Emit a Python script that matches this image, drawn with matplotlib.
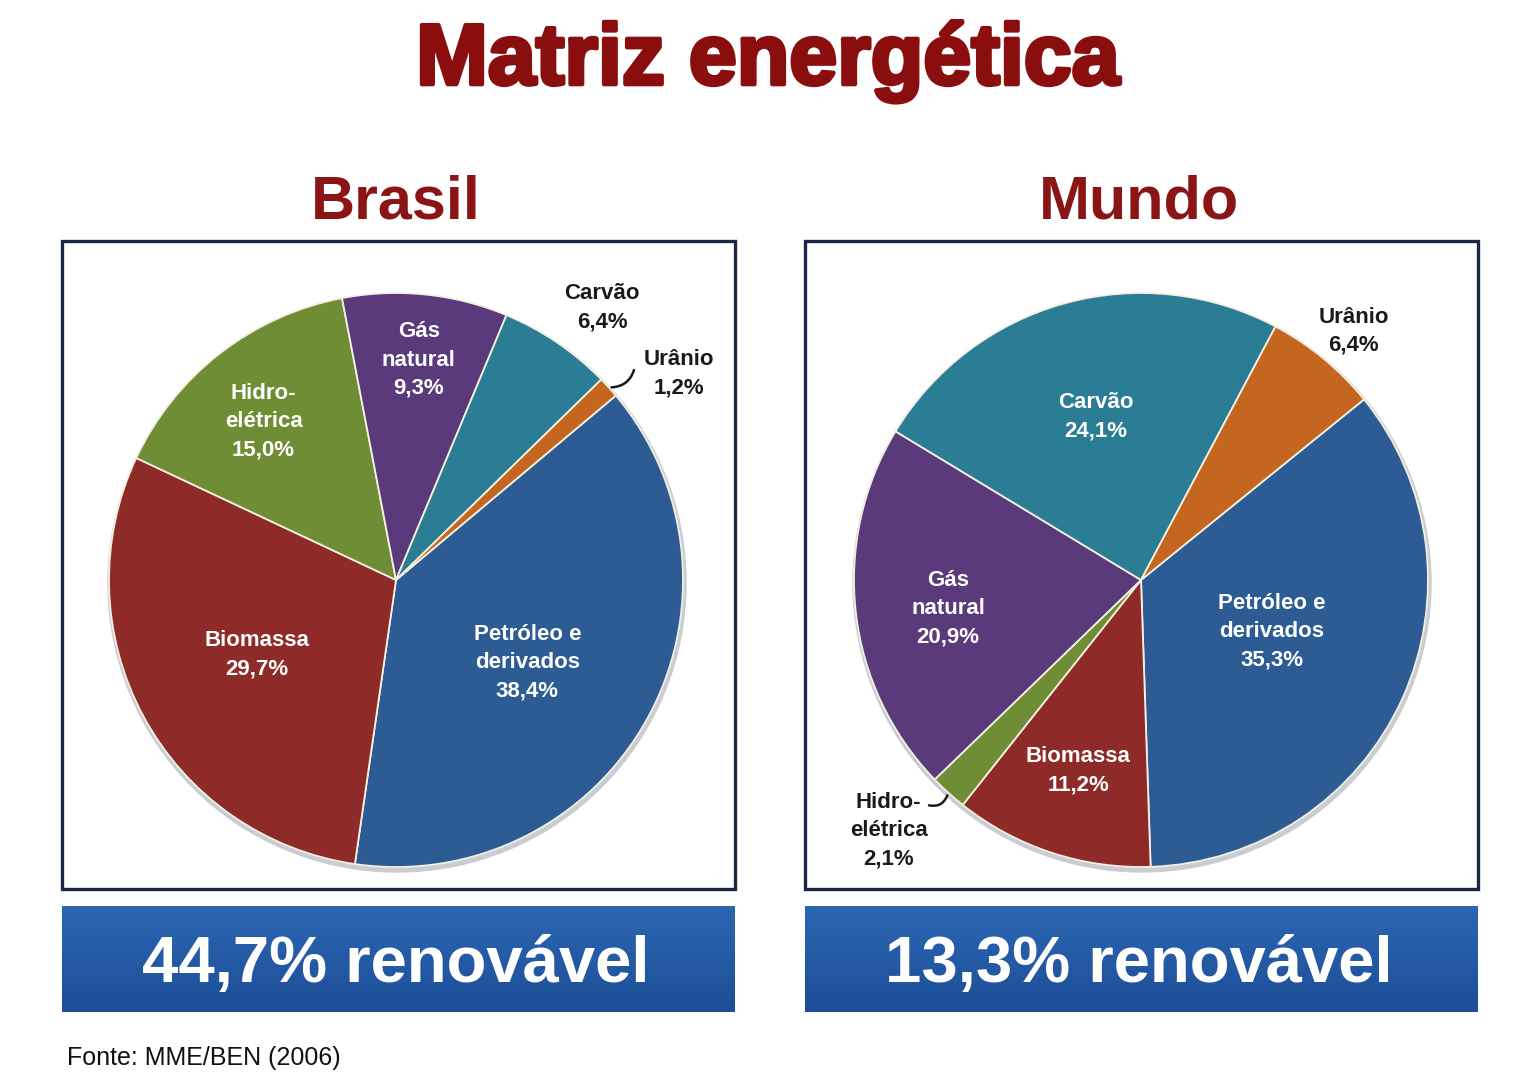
import numpy as np
import matplotlib
matplotlib.use("Agg")
import matplotlib.pyplot as plt
import matplotlib.patheffects as pe
from matplotlib.patches import Rectangle

# dados (MME/BEN 2006)
fontes = ["Petróleo e\nderivados", "Biomassa", "Hidro-\nelétrica", "Gás\nnatural", "Carvão", "Urânio"]
brasil = [38.4, 29.7, 15.0, 9.3, 6.4, 1.2]
mundo = [35.3, 11.2, 2.1, 20.9, 24.1, 6.4]
renovavel = ["44,7% renovável", "13,3% renovável"]
titulos = ["Brasil", "Mundo"]
cores = ["#2C5C93", "#8E2A27", "#6F8D35", "#5B3A7C", "#2B7D95", "#C4661F"]

W, H = 1536, 1078
plt.rcParams['font.family'] = ['Liberation Sans', 'DejaVu Sans']
fig = plt.figure(figsize=(W / 100, H / 100), dpi=100)
ax = fig.add_axes([0, 0, 1, 1])
ax.set_xlim(0, W)
ax.set_ylim(0, H)
ax.set_aspect('equal')
ax.axis('off')

def py(y):
    # pixel y (de cima) -> dado y
    return H - y

ax.text(768, py(62), "Matriz energética", ha='center', va='center', fontsize=62,
        fontweight='bold', color='#8B0E0E',
        path_effects=[pe.withStroke(linewidth=3, foreground='#8B0E0E')])

# (distância radial, desvio de ângulo, cor do texto) para cada rótulo
rot_br = [(0.54, -3, 'w'), (0.55, 0, 'w'), (0.72, 2, 'w'), (0.77, 0, 'w'), (1.19, -3, 'k'), (1.22, -6, 'k')]
rot_mu = [(0.49, 3, 'w'), (0.70, 0, 'w'), (1.24, -3, 'k'), (0.68, 2, 'w'), (0.59, 0, 'w'), (1.14, -1, 'k')]

paineis = [
    (62, 396, brasil, 40, rot_br, 5),
    (805, 1141, mundo, 39, rot_mu, 2),
]
R = 287
for i, (x0, cx, vals, start, rots, lider) in enumerate(paineis):
    cy = py(580)
    # caixa
    ax.add_patch(Rectangle((x0, py(889)), 673, 648, fill=False, ec='#1B2745', lw=2.4, zorder=1))
    ax.text(x0 + 334, py(203), titulos[i], ha='center', va='center', fontsize=44,
            fontweight='bold', color='#8B1515')
    # borda leve
    ax.add_patch(plt.Circle((cx + 1, cy - 3), R + 2, color='#C9CCD2', zorder=1.5))
    wedges, _ = ax.pie(vals, colors=cores, startangle=start, counterclock=False,
                       center=(cx, cy), radius=R, frame=True,
                       wedgeprops=dict(edgecolor='#F4F0E0', linewidth=1.3))
    for w in wedges:
        w.set_zorder(2)
    for k, (w, v) in enumerate(zip(wedges, vals)):
        d, dth, c = rots[k]
        mid = np.deg2rad((w.theta1 + w.theta2) / 2 + dth)
        tx, ty = cx + d * R * np.cos(mid), cy + d * R * np.sin(mid)
        txt = fontes[k] + "\n" + f"{v:.1f}".replace('.', ',') + "%"
        ax.text(tx, ty, txt, ha='center', va='center', fontsize=16, fontweight='bold',
                color='white' if c == 'w' else '#1A1A1A', linespacing=1.45, zorder=3)
    # linha de chamada
    w = wedges[lider]
    a = np.deg2rad((w.theta1 + w.theta2) / 2)
    sx, sy = cx + 1.0 * R * np.cos(a), cy + 1.0 * R * np.sin(a)
    if i == 0:
        ex, ey = sx + 26, sy + 20
        rad = -0.4
    else:
        ex, ey = sx - 22, sy - 12
        rad = 0.5
    ax.annotate("", xy=(sx, sy), xytext=(ex, ey),
                arrowprops=dict(arrowstyle='-', color='#1A1A1A', lw=1.8,
                                connectionstyle=f"arc3,rad={rad}"), zorder=3)
    # faixa azul
    grad = np.linspace(0, 1, 100).reshape(-1, 1)
    cmap = matplotlib.colors.LinearSegmentedColormap.from_list('b', ['#2B66B3', '#1E4E97'])
    ax.imshow(grad, cmap=cmap, extent=(x0, x0 + 673, py(1012), py(906)), aspect='auto', zorder=1)
    ax.text(x0 + 334, py(965), renovavel[i], ha='center', va='center', fontsize=47,
            fontweight='bold', color='white', zorder=3)

ax.set_xlim(0, W)
ax.set_ylim(0, H)
ax.text(67, py(1058), "Fonte: MME/BEN (2006)", ha='left', va='center', fontsize=18, color='#111111')

fig.savefig("out.png", dpi=100)
